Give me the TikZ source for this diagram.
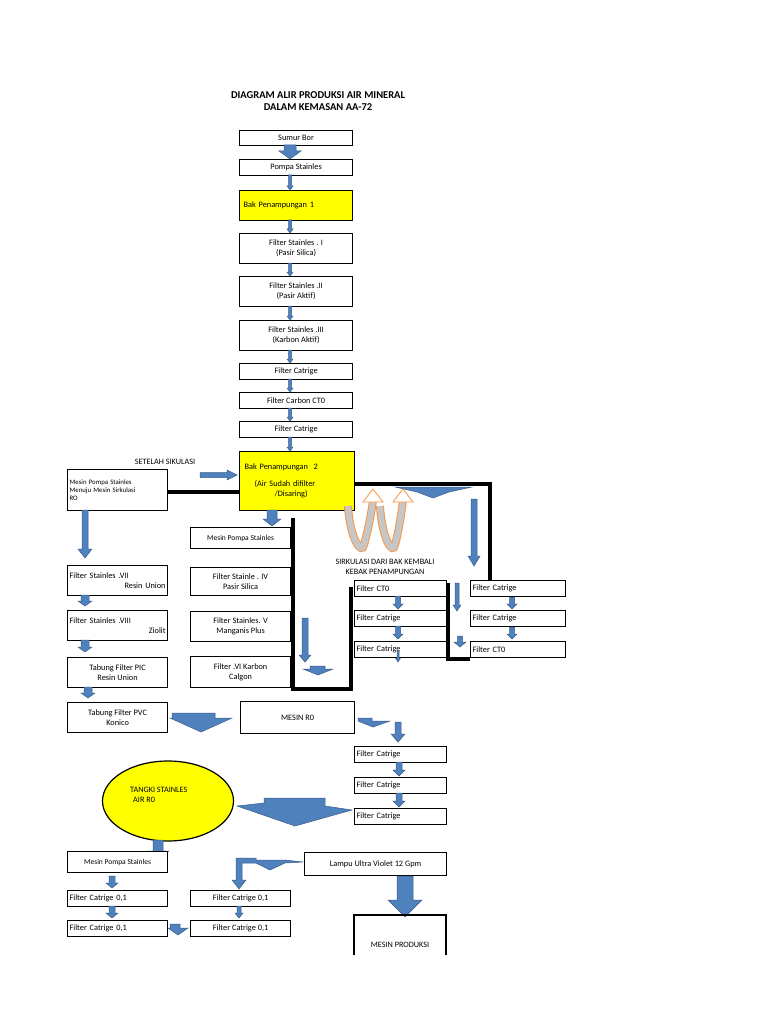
\documentclass[tikz,border=0pt]{standalone}
\usepackage{fontspec}
\setmainfont{Carlito}
\usetikzlibrary{arrows.meta,shapes.geometric}
\definecolor{ablue}{HTML}{4F81BD}
\definecolor{adark}{HTML}{385D8A}
\definecolor{ayel}{HTML}{FFFF00}
\definecolor{aorange}{HTML}{F79646}
\tikzset{
 box/.style={draw=black,line width=1.2pt,fill=white,anchor=north west,inner sep=1pt,font=\fontsize{8.3}{10}\selectfont,align=center},
 ybox/.style={box,fill=ayel},
 barrow/.style={fill=ablue,draw=adark,line width=0.5pt},
 thick line/.style={line width=4pt,draw=black},
 lbl/.style={font=\fontsize{8.2}{9.5}\selectfont,inner sep=0pt},
}
\newcommand{\dar}[6]{\filldraw[barrow] (#1-#4,#2) -- (#1+#4,#2) -- (#1+#4,#3-#6) -- (#1+#5,#3-#6) -- (#1,#3) -- (#1-#5,#3-#6) -- (#1-#4,#3-#6) -- cycle;}
\newcommand{\rar}[6]{\filldraw[barrow] (#2,#1-#4) -- (#2,#1+#4) -- (#3-#6,#1+#4) -- (#3-#6,#1+#5) -- (#3,#1) -- (#3-#6,#1-#5) -- (#3-#6,#1-#4) -- cycle;}
\begin{document}
\begin{tikzpicture}[x=1pt,y=-1pt]
\useasboundingbox[fill=white] (0,0) rectangle (768,1024);
\node[font=\fontsize{10.5}{12.5}\selectfont\bfseries,align=center] (title) at (318,101) {DIAGRAM ALIR PRODUKSI AIR MINERAL\\DALAM KEMASAN AA-72};
\node[box,minimum width=113pt,minimum height=15pt] (sb) at (239,130) {Sumur Bor};
\node[box,minimum width=113pt,minimum height=16pt] (ps) at (239,159) {Pompa Stainles};
\node[ybox,minimum width=113pt,minimum height=30pt,align=left,text width=105pt] (bp1) at (239,190) {Bak Penampungan 1};
\node[box,minimum width=113pt,minimum height=30pt] (f1) at (239,233) {Filter Stainles . I\\(Pasir Silica)};
\node[box,minimum width=113pt,minimum height=30pt] (f2) at (239,276) {Filter Stainles .II\\(Pasir Aktif)};
\node[box,minimum width=113pt,minimum height=30pt] (f3) at (239,320) {Filter Stainles .III\\(Karbon Aktif)};
\node[box,minimum width=113pt,minimum height=16pt] (fc1) at (239,363) {Filter Catrige};
\node[box,minimum width=113pt,minimum height=16pt] (fct) at (239,392) {Filter Carbon CT0};
\node[box,minimum width=113pt,minimum height=16pt] (fc2) at (239,421) {Filter Catrige};
\node[ybox,minimum width=115pt,minimum height=59pt,align=left,text width=105pt] (bp2) at (239,451) {Bak Penampungan \ 2\\[7pt]\hspace*{10pt}(Air Sudah difilter\\\hspace*{30pt}/Disaring)};
\dar{290}{145}{159}{6}{11}{8}
\dar{290}{175}{190}{1.5}{3}{4}
\dar{290}{220}{233}{1.5}{3}{4}
\dar{290}{263}{276}{1.5}{3}{4}
\dar{290}{306}{320}{1.5}{3}{4}
\dar{290}{350}{363}{1.5}{3}{4}
\dar{290}{379}{392}{1.5}{3}{4}
\dar{290}{408}{421}{1.5}{3}{4}
\dar{290}{437}{451}{1.5}{3}{4}
\node[lbl] (setelah) at (165,462) {SETELAH SIKULASI};
\rar{475}{200}{237}{2.5}{5}{10}
\node[box,minimum width=100pt,minimum height=41pt,align=left,text width=96pt,font=\fontsize{6.8}{7.8}\selectfont] (mps) at (67,469) {Mesin Pompa Stainles\\Menuju Mesin Sirkulasi\\RO};
\draw[thick line] (mps.east|-0,492) -- (bp2.west|-0,492);
\dar{85}{510}{558}{3}{7}{9}
\node[box,minimum width=100pt,minimum height=30pt,align=left,text width=96pt] (f7) at (67,565) {Filter Stainles .VII\\\hfill Resin Union\hspace*{4pt}};
\dar{85}{595}{606}{4}{7}{5}
\node[box,minimum width=100pt,minimum height=30pt,align=left,text width=96pt] (f8) at (67,610) {Filter Stainles .VIII\\\hfill Ziolit\hspace*{10pt}};
\dar{85}{640}{652}{4}{7}{5}
\node[box,minimum width=100pt,minimum height=30pt] (pic) at (67,657) {Tabung Filter PIC\\Resin Union};
\dar{88}{687}{698}{4}{7}{5}
\node[box,minimum width=100pt,minimum height=30pt] (pvc) at (67,702) {Tabung Filter PVC\\Konico};
\filldraw[barrow] (172,713) -- (215,713) -- (215,718) -- (232,718) -- (201,732) -- (170,718) -- (172,718) -- cycle;
\dar{272}{510}{526}{5}{9}{7}
\node[box,minimum width=100pt,minimum height=21pt,font=\fontsize{7.5}{9}\selectfont] (mp2) at (190,527) {Mesin Pompa Stainles};
\node[box,minimum width=100pt,minimum height=28pt] (f4) at (190,567) {Filter Stainle . IV\\Pasir Silica};
\node[box,minimum width=100pt,minimum height=30pt] (f5) at (190,611) {Filter Stainles. V\\Manganis Plus};
\node[box,minimum width=100pt,minimum height=31pt] (f6) at (190,656) {Filter .VI Karbon\\Calgon};
\coordinate (l1) at (293,518);
\coordinate (l2) at (293,689);
\coordinate (l3) at (351,689);
\coordinate (l4) at (351,587);
\draw[thick line] (l1) -- (l2) -- (l3) -- (l4);
\dar{305}{618}{662}{3}{6}{7}
\filldraw[barrow] (310,666) -- (325,666) -- (325,669) -- (333,669) -- (318,675) -- (303,669) -- (310,669) -- cycle;
\node[box,minimum width=114pt,minimum height=32pt] (ro) at (240,701) {MESIN R0};
\filldraw[barrow] (358,718) -- (372,718) -- (372,721) -- (390,721) -- (373,727) -- (358,721) -- cycle;
\dar{398}{722}{742}{3}{7}{8}
\coordinate (r1) at (354,484);
\coordinate (r2) at (490,484);
\coordinate (r3) at (490,580);
\draw[thick line] (r1) -- (r2) -- (r3);
\filldraw[barrow] (395,487) -- (472,487) -- (449,492) -- (433,498) -- (417,492) -- cycle;
\foreach \a/\b/\c in {348/362/376, 380/393/406}{
 \draw[aorange,line width=8pt] (\a,506) .. controls (\a+2,540) and (\b,555) .. (\b+2,545) .. controls (\b+6,530) and (\c-4,510) .. (\c-3,500);
 \draw[gray!45,line width=6pt] (\a,506) .. controls (\a+2,540) and (\b,555) .. (\b+2,545) .. controls (\b+6,530) and (\c-4,510) .. (\c-3,500);
 \filldraw[draw=aorange,fill=white,line width=0.8pt] (\c-13,502) -- (\c-3,489) -- (\c+7,502) -- cycle;
}
\node[lbl,align=center] (sirk) at (385,567) {SIRKULASI DARI BAK KEMBALI\\KEBAK PENAMPUNGAN};
\tikzset{sbox/.style={box,minimum width=92pt,minimum height=16pt,align=left,text width=88pt}}
\node[sbox] (cta) at (354,580) {Filter CT0};
\node[sbox] (cca) at (354,610) {Filter Catrige};
\node[sbox] (ccb) at (354,641) {Filter Catrige};
\dar{398}{596}{609}{2.5}{5}{5}
\dar{398}{626}{639}{2.5}{5}{5}
\dar{398}{651}{662}{1}{2.5}{4}
\coordinate (m1) at (448,583);
\coordinate (m2) at (448,659);
\coordinate (m3) at (470,659);
\draw[thick line] (m1) -- (m2) -- (m3);
\dar{457}{583}{611}{2}{4}{6}
\dar{460}{636}{647}{2.5}{6}{5}
\node[box,minimum width=95pt,minimum height=16pt,align=left,text width=91pt] (rc1) at (470,580) {Filter Catrige};
\node[box,minimum width=95pt,minimum height=16pt,align=left,text width=91pt] (rc2) at (470,610) {Filter Catrige};
\node[box,minimum width=95pt,minimum height=16pt,align=left,text width=91pt] (rct) at (470,641) {Filter CT0};
\dar{474}{499}{566}{3}{6}{10}
\dar{512}{597}{609}{2.5}{5}{5}
\dar{512}{627}{639}{2.5}{5}{5}
\node[sbox] (c1) at (354,746) {Filter Catrige};
\node[sbox] (c2) at (354,777) {Filter Catrige};
\node[sbox] (c3) at (354,808) {Filter Catrige};
\dar{399}{762}{776}{3}{6}{6}
\dar{399}{793}{807}{3}{6}{6}
\node[ellipse,draw=black,line width=1.2pt,fill=ayel,minimum width=131pt,minimum height=80pt] (tank) at (168,801) {};
\node[lbl,align=left,anchor=west] (tanktxt) at (130,795) {TANGKI STAINLES\\\hspace*{3pt}AIR R0};
\filldraw[barrow] (237,806) -- (264,803) -- (264,798) -- (325,798) -- (325,806) -- (352,810) -- (295,826) -- cycle;
\dar{158}{840}{859}{5}{11}{8}
\node[box,minimum width=100pt,minimum height=21pt,font=\fontsize{7.5}{9}\selectfont] (mp3) at (67,851) {Mesin Pompa Stainles};
\node[box,minimum width=100pt,minimum height=16pt,align=left,text width=96pt] (b1) at (67,890) {Filter Catrige 0,1};
\node[box,minimum width=100pt,minimum height=16pt,align=left,text width=96pt] (b2) at (67,920) {Filter Catrige 0,1};
\node[box,minimum width=100pt,minimum height=16pt] (b3) at (190,890) {Filter Catrige 0,1};
\node[box,minimum width=100pt,minimum height=16pt] (b4) at (190,920) {Filter Catrige 0,1};
\dar{112}{876}{888}{3}{6}{5}
\dar{112}{906}{918}{3}{6}{5}
\dar{239}{906}{918}{2}{4}{5}
\filldraw[barrow] (170,924) -- (180,924) -- (180,928) -- (188,928) -- (178,935) -- (168,928) -- (170,928) -- cycle;
\node[box,minimum width=142pt,minimum height=23pt] (uv) at (304,852) {Lampu Ultra Violet 12 Gpm};
\filldraw[barrow] (303,862) -- (285,863) -- (270,870) -- (256,863) -- (242,863) -- (242,880) -- (246,880) -- (239,889) -- (232,880) -- (236,880) -- (236,858) -- (256,858) -- (256,860) -- (285,860) -- cycle;
\dar{405}{876}{917}{8}{17}{17}
\draw[line width=1.2pt] (354,955) -- (354,915) -- (446,915) -- (446,955);
\node[lbl] (prod) at (400,945) {MESIN PRODUKSI};
\end{tikzpicture}
\end{document}
